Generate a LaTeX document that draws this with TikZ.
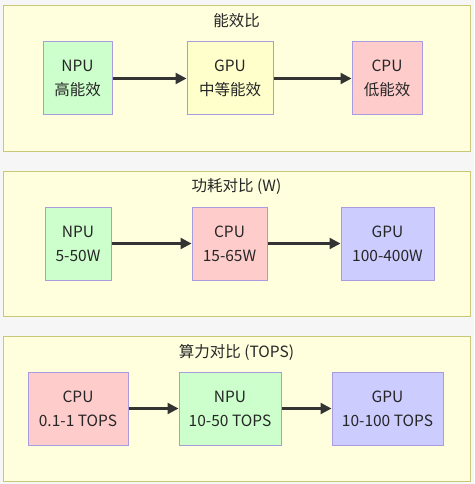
\documentclass[tikz,border=0pt]{standalone}
\usepackage{fontspec}
\setmainfont{Noto Sans CJK SC}
\usepackage{tikz}
\usetikzlibrary{arrows.meta,positioning,backgrounds}

\definecolor{panelfill}{HTML}{FFFFDE}
\definecolor{paneldraw}{HTML}{C8C878}
\definecolor{boxdraw}{HTML}{A99BE0}
\definecolor{npufill}{HTML}{CCFFCC}
\definecolor{cpufill}{HTML}{FFCCCC}
\definecolor{gpufill}{HTML}{CCCCFF}
\definecolor{midfill}{HTML}{FFFFCC}
\definecolor{pagebg}{HTML}{F6F6F6}
\definecolor{arrowcol}{HTML}{333333}

\begin{document}
\begin{tikzpicture}[
  x=1pt, y=-1pt,
  font=\fontsize{15.5}{24}\selectfont,
  panel/.style={draw=paneldraw, fill=panelfill, line width=1pt, minimum width=467pt, minimum height=145pt, inner sep=0pt},
  title/.style={inner sep=0pt, text=black!85},
  box/.style={draw=boxdraw, line width=1pt, align=center, minimum height=73pt, inner sep=0pt, text=black!85},
  npu/.style={box, fill=npufill},
  cpu/.style={box, fill=cpufill},
  gpu/.style={box, fill=gpufill},
  mid/.style={box, fill=midfill},
  arrow/.style={-{Triangle[length=11pt, width=11pt]}, line width=2.3pt, draw=arrowcol}
]

\fill[pagebg] (0,0) rectangle (474,484);
\useasboundingbox (0,0) rectangle (474,484);

% energy efficiency
\node[panel] (effpanel) at (236.5,78.5) {};
\node[title] (efftitle) at (236.5,21) {能效比};
\node[npu, minimum width=69pt] (effnpu) at (77.5,78.5) {NPU\\高能效};
\node[mid, minimum width=86pt] (effgpu) at (230,78.5) {GPU\\中等能效};
\node[cpu, minimum width=70pt] (effcpu) at (387,78.5) {CPU\\低能效};

\draw[arrow] (effnpu) -- (effgpu);
\draw[arrow] (effgpu) -- (effcpu);

% power
\node[panel] (powpanel) at (236.5,243.5) {};
\node[title] (powtitle) at (236.5,187) {功耗对比 (W)};
\node[npu, minimum width=66pt] (pownpu) at (78,243.5) {NPU\\5-50W};
\node[cpu, minimum width=75pt] (powcpu) at (229.5,243.5) {CPU\\15-65W};
\node[gpu, minimum width=93pt] (powgpu) at (387.5,243.5) {GPU\\100-400W};

\draw[arrow] (pownpu) -- (powcpu);
\draw[arrow] (powcpu) -- (powgpu);

% compute
\node[panel] (toppanel) at (236.5,408.5) {};
\node[title] (toptitle) at (236.5,352) {算力对比 (TOPS)};
\node[cpu, minimum width=100pt] (topcpu) at (78,408.5) {CPU\\0.1-1 TOPS};
\node[npu, minimum width=102pt] (topnpu) at (230,408.5) {NPU\\10-50 TOPS};
\node[gpu, minimum width=111pt] (topgpu) at (387.5,408.5) {GPU\\10-100 TOPS};

\draw[arrow] (topcpu) -- (topnpu);
\draw[arrow] (topnpu) -- (topgpu);

\end{tikzpicture}
\end{document}
